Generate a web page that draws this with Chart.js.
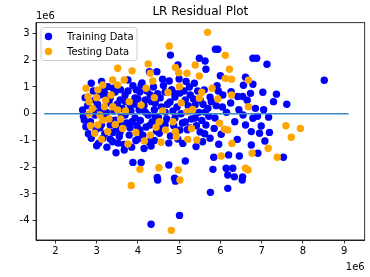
<!DOCTYPE html>
<html>
<head>
<meta charset="utf-8">
<script src="https://cdn.jsdelivr.net/npm/chart.js@4"></script>
<style>
  html, body { margin: 0; padding: 0; background: #fff; }
  #wrap { width: 370px; height: 277px; }
</style>
</head>
<body>
<div id="wrap"><canvas id="residChart" width="370" height="277"></canvas></div>
<script>
// values in units of 1e6
const trainX = [2.87,3.27,3.23,4.79,5.88,4.97,5.49,5.63,5.65,4.46,4.28,4.60,4.76,5.17,4.08,3.76,5.37,5.61,4.89,3.96,
  5.94,6.79,6.88,7.13,6.00,6.61,6.79,6.56,5.92,7.03,7.36,6.73,6.06,6.26,6.42,6.54,8.52,
  2.70,2.74,2.87,3.15,3.39,3.47,3.67,2.66,3.88,4.08,4.75,5.15,4.47,4.89,5.82,5.84,4.32,4.79,5.09,5.41,5.57,5.75,4.52,5.65,
  7.61,7.29,7.19,7.53,7.08,6.95,6.75,6.75,6.91,6.46,6.20,6.41,5.96,6.02,6.61,6.99,7.17,6.79,6.14,6.30,6.18,6.34,6.54,
  4.48,4.91,5.76,5.01,4.32,6.18,6.53,
  2.96,3.08,3.33,3.45,3.57,3.69,3.81,3.93,4.05,4.18,4.30,4.42,4.54,4.66,4.78,4.90,5.02,5.15,5.27,5.39,5.51,5.75,
  2.96,3.21,3.45,3.69,3.93,4.18,4.42,4.66,4.90,5.15,5.39,5.63,5.87,
  3.08,3.33,3.57,3.81,4.05,4.30,4.66,5.02,5.27,5.51,
  2.78,2.85,2.92,2.98,3.02,3.05,3.10,3.12,3.18,3.20,3.24,3.30,3.33,3.36,3.40,3.42,3.48,3.50,3.55,3.58,
  3.60,3.62,3.66,3.70,3.73,3.76,3.79,3.83,3.86,3.88,3.91,3.95,3.98,4.00,4.03,4.06,4.10,4.12,4.15,4.20,
  4.22,4.25,4.27,4.33,4.35,4.38,4.40,4.45,4.48,4.50,4.57,4.60,4.62,4.70,4.72,4.75,4.82,4.85,4.87,4.95,
  4.97,5.00,5.05,5.08,5.12,5.20,5.22,5.25,5.30,5.35,5.42,5.45,5.48,5.55,5.58,5.62,5.70,5.72,5.78,5.85,
  5.90,5.95,6.05,6.15,6.25,6.35,6.45,6.55,6.65,6.85,7.05,6.90,
  2.72,2.68,2.80,3.00,3.25,3.52,3.85,4.15,4.40,3.60,3.40,4.00,2.92,3.12];
const trainY = [1.14,1.01,0.70,2.19,2.41,1.82,2.07,1.97,1.66,1.57,1.57,1.29,1.22,1.20,1.07,1.26,1.14,0.89,0.76,0.89,
  2.41,2.07,2.07,1.85,1.42,1.36,1.10,1.06,1.05,0.80,0.73,0.76,0.70,0.82,0.64,0.64,1.25,
  -0.24,-0.49,-0.92,-0.92,-1.05,-1.46,-1.36,0.14,-1.82,-1.82,-1.92,-1.77,-2.38,-2.41,-2.08,-1.63,-1.21,-0.83,-1.11,-1.23,-1.05,-0.92,-0.73,-0.42,
  0.35,0.45,-0.70,-1.63,-1.02,-0.73,-0.67,-1.17,-1.48,-1.58,-1.54,-0.96,-1.14,-0.77,-0.42,-0.46,-0.13,-0.17,-2.04,-2.04,-2.29,-2.36,-2.36,
  -2.48,-2.52,-2.94,-3.80,-4.13,-2.79,-2.48,
  0.51,0.70,0.59,0.81,0.51,0.70,0.33,0.59,0.81,0.51,0.70,0.40,0.59,0.81,0.44,0.62,0.77,0.51,0.70,0.33,0.51,0.62,
  -0.05,-0.16,-0.24,-0.05,-0.16,0.06,-0.09,0.06,-0.16,-0.31,-0.16,0.06,-0.16,
  -0.53,-0.42,-0.68,-0.53,-0.61,-0.42,-0.42,-0.61,-0.53,-0.68,
  0.30,-0.30,0.10,-0.60,0.35,-1.10,0.15,-0.40,0.85,-0.75,0.05,0.40,-0.95,-0.25,0.95,0.10,-0.55,0.35,-0.85,0.90,
  -0.10,0.20,-1.15,0.45,-0.35,0.85,-0.80,0.10,-0.30,1.05,0.35,-1.00,-0.45,0.55,0.15,-0.25,1.15,-0.80,0.30,-0.50,
  0.85,-0.05,-1.05,0.45,-0.30,1.00,0.15,-0.65,0.75,-0.15,0.25,-0.50,1.05,-0.20,0.35,-1.10,0.90,0.10,-0.45,0.25,
  -0.95,1.30,0.00,-0.35,0.85,-0.60,0.30,1.00,-0.20,0.55,-0.45,0.85,0.05,-0.25,0.35,-0.75,0.20,-0.10,0.45,-0.55,
  0.30,0.85,0.25,0.05,0.40,-0.30,0.15,-0.05,0.50,0.20,0.15,-0.10,
  0.60,-0.10,-0.75,-1.20,-1.25,-1.10,-1.25,-1.30,-1.00,-0.45,-0.70,-0.95,0.85,1.20];

const testX = [3.51,2.74,3.15,3.03,3.39,3.51,2.79,3.67,
  5.69,4.76,4.25,3.86,4.91,5.39,4.99,5.19,4.30,5.49,4.36,5.01,4.73,5.80,5.49,
  6.12,6.22,6.12,6.27,6.68,6.27,5.94,
  2.82,2.82,3.03,3.15,2.95,3.27,3.19,3.39,3.51,3.63,
  4.05,4.51,4.98,3.76,4.16,4.56,4.93,5.21,5.43,4.67,4.91,4.44,4.52,5.19,5.33,
  7.59,7.94,7.72,6.68,7.16,7.38,6.77,6.02,6.28,6.18,6.10,5.98,6.61,6.67,
  3.84,5.02,4.81,
  2.90,3.00,3.08,3.22,3.30,3.45,3.35,3.58,3.70,3.79,4.08,4.20,4.40,4.60,4.85,5.05,5.30,5.55,3.95,4.30,2.85,3.12];
const testY = [1.70,0.95,1.07,0.89,1.26,1.07,0.64,1.26,
  3.04,2.53,1.86,1.60,1.73,1.82,1.53,1.51,1.51,1.41,1.22,1.01,0.79,0.95,0.58,
  2.18,1.66,1.32,1.29,1.25,0.70,0.55,
  0.45,-0.01,-0.42,-0.24,-0.73,-0.67,0.26,0.26,0.14,-0.55,
  -2.08,-2.02,-2.10,-1.13,-1.02,-1.07,-0.86,-0.96,-0.98,-0.61,-0.67,-0.51,-0.30,0.07,0.16,
  -0.45,-0.55,-0.88,0.26,-1.29,-1.63,-1.48,-1.58,-1.11,-0.61,-0.58,-0.36,-2.04,-2.10,
  -2.68,-2.48,-4.36,
  0.20,0.60,-0.05,0.50,-0.20,-0.40,0.70,-0.20,0.10,0.45,0.32,0.95,0.60,0.10,-0.30,0.40,-0.55,0.80,-0.70,-0.80,-0.45,-0.95];

const zeroLineX = [1.73, 9.11];
const xTicks = [2, 3, 4, 5, 6, 7, 8, 9];
const yTicks = [-4, -3, -2, -1, 0, 1, 2, 3];

const toPoints = (xs, ys) => xs.map((x, i) => ({ x: x, y: ys[i] }));

const FONT = 'DejaVu Sans';

// title, frame, offset labels and legend, drawn matplotlib style
const decorPlugin = {
    id: 'decor',
    afterDraw(chart) {
        const c = chart.ctx;
        const a = chart.chartArea;
        c.save();
        c.strokeStyle = '#000';
        c.lineWidth = 0.8;
        c.strokeRect(a.left, a.top, a.right - a.left, a.bottom - a.top);

        c.fillStyle = '#000';
        c.font = '12px "' + FONT + '"';
        c.textAlign = 'center';
        c.textBaseline = 'alphabetic';
        c.fillText('LR Residual Plot', (a.left + a.right) / 2, 15);

        c.font = '10px "' + FONT + '"';
        c.textAlign = 'left';
        c.fillText('1e6', a.left, 19);
        c.textAlign = 'right';
        c.fillText('1e6', a.right, 270);

        // legend box
        const bx = 41, by = 27.5, bw = 96, bh = 33;
        c.beginPath();
        c.roundRect(bx, by, bw, bh, 2.5);
        c.fillStyle = 'rgba(255,255,255,0.8)';
        c.fill();
        c.strokeStyle = '#cccccc';
        c.lineWidth = 1;
        c.stroke();

        const rows = [['Training Data', '#0000ff', 36.5], ['Testing Data', '#ffa500', 51.5]];
        rows.forEach(r => {
            c.beginPath();
            c.arc(48.5, r[2], 3.7, 0, Math.PI * 2);
            c.fillStyle = r[1];
            c.fill();
            c.fillStyle = '#000';
            c.textAlign = 'left';
            c.textBaseline = 'middle';
            c.fillText(r[0], 67, r[2] + 0.5);
        });
        c.restore();
    }
};

const ctx = document.getElementById('residChart').getContext('2d');
const residChart = new Chart(ctx, {
    type: 'scatter',
    data: {
        datasets: [
            {
                type: 'line',
                label: 'zero',
                data: toPoints(zeroLineX, [0, 0]),
                borderColor: '#3d8bc1',
                borderWidth: 1.5,
                pointRadius: 0,
                fill: false,
                order: 0
            },
            {
                label: 'Testing Data',
                data: toPoints(testX, testY),
                backgroundColor: '#ffa500',
                borderWidth: 0,
                pointRadius: 3.7,
                order: 1
            },
            {
                label: 'Training Data',
                data: toPoints(trainX, trainY),
                backgroundColor: '#0000ff',
                borderWidth: 0,
                pointRadius: 3.7,
                order: 2
            }
        ]
    },
    options: {
        responsive: false,
        animation: false,
        layout: { padding: { left: 0, top: 22.7, right: 5.3, bottom: 0 } },
        scales: {
            x: {
                type: 'linear',
                min: 1.53,
                max: 9.50,
                afterFit: (s) => { s.height = 37; },
                afterBuildTicks: (s) => { s.ticks = xTicks.map(v => ({ value: v })); },
                grid: { drawOnChartArea: false, drawTicks: true, tickLength: 3.5, color: '#000', lineWidth: 0.8 },
                border: { display: true, color: '#000', width: 0.8 },
                ticks: { color: '#000', padding: 2, maxRotation: 0, font: { family: FONT, size: 10 } }
            },
            y: {
                type: 'linear',
                min: -4.72,
                max: 3.40,
                afterFit: (s) => { s.width = 36; },
                afterBuildTicks: (s) => { s.ticks = yTicks.map(v => ({ value: v })); },
                grid: { drawOnChartArea: false, drawTicks: true, tickLength: 3.5, color: '#000', lineWidth: 0.8 },
                border: { display: true, color: '#000', width: 0.8 },
                ticks: { color: '#000', padding: 3, font: { family: FONT, size: 10 } }
            }
        },
        plugins: {
            legend: { display: false },
            title: { display: false },
            tooltip: { enabled: false }
        }
    },
    plugins: [decorPlugin]
});
</script>
</body>
</html>
